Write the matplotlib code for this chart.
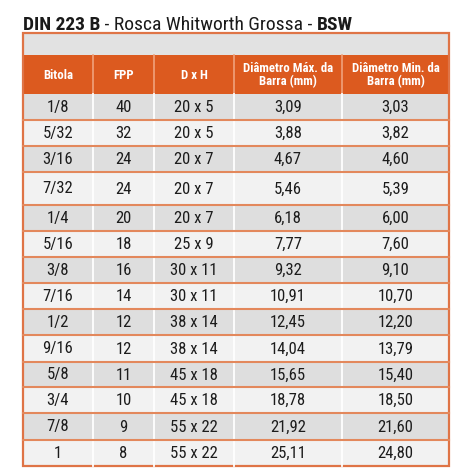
import matplotlib.pyplot as plt
from matplotlib.patches import Rectangle

# table content
headers = ['Bitola', 'FPP', 'D x H', 'Diâmetro Máx. da\nBarra (mm)', 'Diâmetro Min. da\nBarra (mm)']
bitola = ['1/8', '5/32', '3/16', '7/32', '1/4', '5/16', '3/8', '7/16', '1/2', '9/16', '5/8', '3/4', '7/8', '1']
fpp = ['40', '32', '24', '24', '20', '18', '16', '14', '12', '12', '11', '10', '9', '8']
dxh = ['20 x 5', '20 x 5', '20 x 7', '20 x 7', '20 x 7', '25 x 9', '30 x 11', '30 x 11',
       '38 x 14', '38 x 14', '45 x 18', '45 x 18', '55 x 22', '55 x 22']
diam_max = ['3,09', '3,88', '4,67', '5,46', '6,18', '7,77', '9,32', '10,91',
            '12,45', '14,04', '15,65', '18,78', '21,92', '25,11']
diam_min = ['3,03', '3,82', '4,60', '5,39', '6,00', '7,60', '9,10', '10,70',
            '12,20', '13,79', '15,40', '18,50', '21,60', '24,80']

# layout in pixels
col_edges = [23, 93, 154, 234, 342, 449]
row_edges = [94, 120, 146, 172, 205, 231, 257, 283, 309, 335, 362, 387, 413, 440, 466]
top, band_bottom, head_bottom = 33, 55, 94

orange = '#dc5a1f'
line_orange = '#e3885c'
dark_row = '#dedede'
light_row = '#f2f2f2'
font = ['Roboto Condensed', 'DejaVu Sans']

fig = plt.figure(figsize=(4.74, 4.74), dpi=100)
ax = fig.add_axes([0, 0, 1, 1])
ax.set_xlim(0, 474)
ax.set_ylim(474, 0)
ax.axis('off')

left, right = col_edges[0], col_edges[-1]

# grey band and header
ax.add_patch(Rectangle((left, top), right - left, band_bottom - top, color='#e2e2e2', lw=0))
ax.add_patch(Rectangle((left, band_bottom), right - left, head_bottom - band_bottom, color=orange, lw=0))
for x in col_edges[1:-1]:
    ax.plot([x, x], [band_bottom, head_bottom], color='#f0a27c', lw=1.2)

cols = [bitola, fpp, dxh, diam_max, diam_min]
centers = [(a + b) / 2 for a, b in zip(col_edges[:-1], col_edges[1:])]
for c, h in zip(centers, headers):
    ax.text(c, (band_bottom + head_bottom) / 2 + 1, h, ha='center', va='center',
            color='white', fontsize=9.2, fontweight='bold', family=font, linespacing=1.0)

# body rows
for i in range(len(bitola)):
    y0, y1 = row_edges[i], row_edges[i + 1]
    ax.add_patch(Rectangle((left, y0), right - left, y1 - y0,
                           color=dark_row if i % 2 == 0 else light_row, lw=0))
    for c, col in zip(centers, cols):
        ax.text(c, (y0 + y1) / 2 + 0.5, col[i], ha='center', va='center',
                color='#1c1c1c', fontsize=12, family=font)

for x in col_edges[1:-1]:
    ax.plot([x, x], [head_bottom, row_edges[-1]], color='white', lw=1.3)
for y in row_edges[1:-1]:
    ax.plot([left, right], [y, y], color=line_orange, lw=1.5)

# outer border
ax.add_patch(Rectangle((left, top), right - left, row_edges[-1] - top, fill=False,
                       edgecolor='#df7446', lw=1.6))

# title with mixed weights
fig.canvas.draw()
renderer = fig.canvas.get_renderer()
x = left
for txt, wt in [('DIN 223 B', 'bold'), (' - Rosca Whitworth Grossa - ', 'normal'), ('BSW', 'bold')]:
    t = ax.text(x, 29.5, txt, ha='left', va='baseline', fontsize=14, fontweight=wt,
                family=font, color='#1a1a1a')
    bb = t.get_window_extent(renderer)
    x += bb.width * 474 / fig.bbox.width

fig.savefig('out.png', dpi=100)
